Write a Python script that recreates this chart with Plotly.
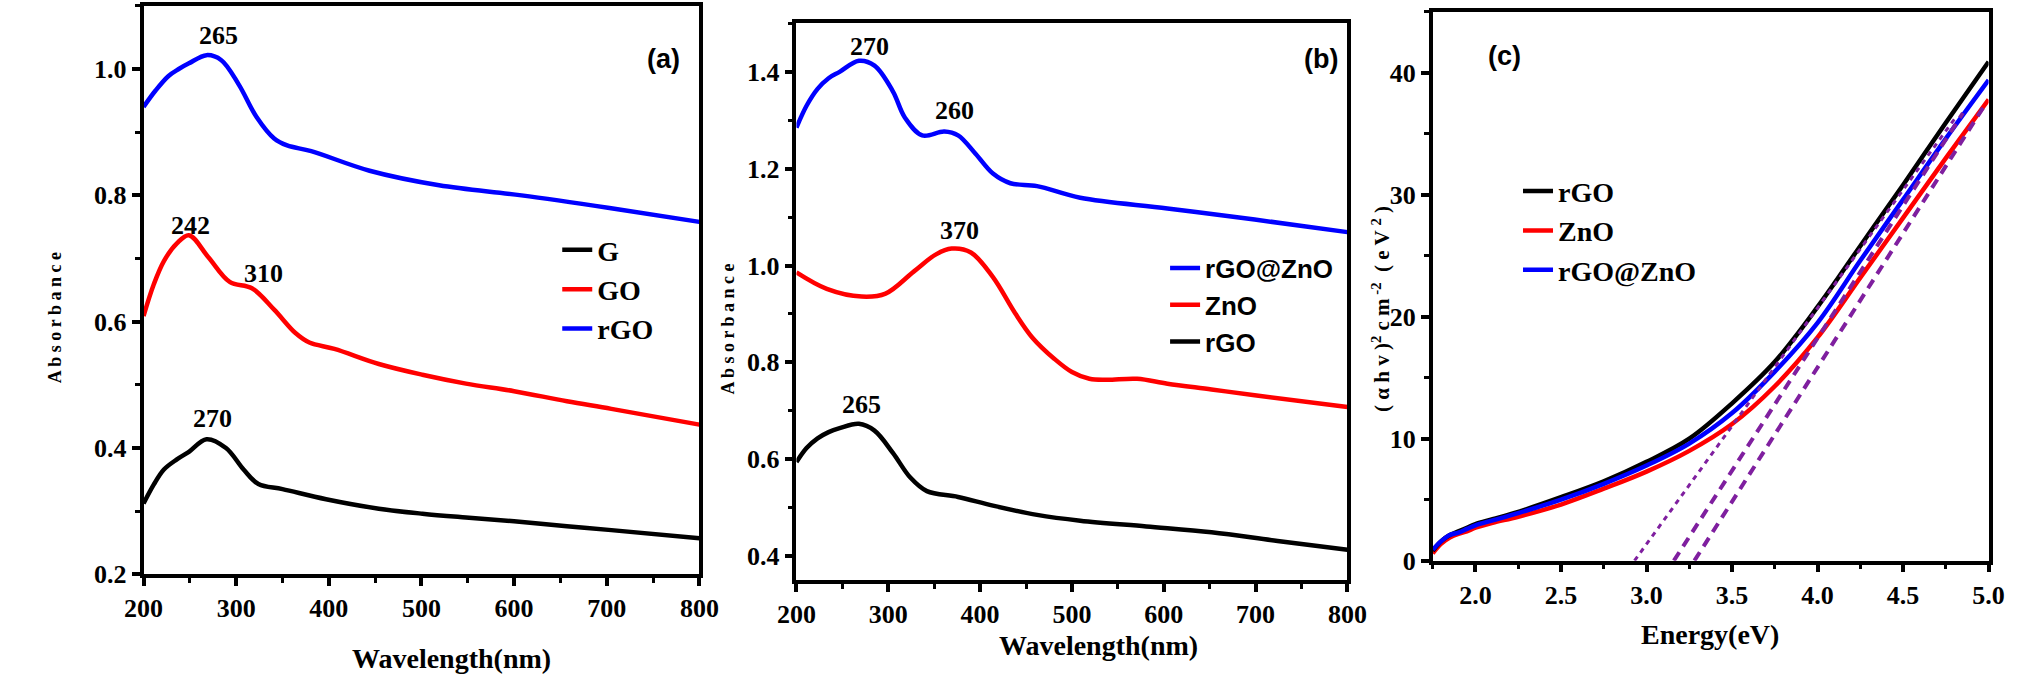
import plotly.graph_objects as go

W, H = 2038, 696

# ---------------- Data ----------------
# Panel (a)
a_G_x = [200, 211, 222, 236, 249, 268, 289, 308, 324, 350, 397, 454, 501, 548, 600, 657, 705, 800]
a_G_y = [0.312, 0.342, 0.366, 0.382, 0.394, 0.414, 0.400, 0.366, 0.343, 0.335, 0.319, 0.304, 0.296, 0.290, 0.284, 0.276, 0.270, 0.257]
a_GO_x = [200, 211, 222, 236, 249, 270, 293, 317, 341, 364, 379, 406, 454, 501, 548, 600, 657, 705, 800]
a_GO_y = [0.609, 0.659, 0.696, 0.724, 0.737, 0.702, 0.663, 0.653, 0.619, 0.582, 0.567, 0.557, 0.533, 0.516, 0.502, 0.490, 0.474, 0.462, 0.437]
a_rGO_x = [200, 213, 227, 238, 249, 268, 284, 303, 322, 341, 355, 381, 444, 519, 608, 703, 800]
a_rGO_y = [0.940, 0.966, 0.989, 1.000, 1.009, 1.022, 1.014, 0.975, 0.924, 0.890, 0.879, 0.870, 0.839, 0.816, 0.800, 0.780, 0.758]

# Panel (b)
b_rGOZnO_x = [200, 211, 223, 235, 247, 268, 285, 305, 318, 337, 361, 376, 395, 414, 433, 462, 509, 604, 699, 800]
b_rGOZnO_y = [1.285, 1.330, 1.365, 1.387, 1.400, 1.423, 1.413, 1.360, 1.306, 1.269, 1.277, 1.269, 1.231, 1.190, 1.170, 1.164, 1.140, 1.118, 1.095, 1.069]
b_ZnO_x = [200, 233, 271, 297, 328, 352, 369, 390, 414, 438, 457, 481, 500, 519, 538, 571, 604, 652, 699, 800]
b_ZnO_y = [0.986, 0.952, 0.936, 0.942, 0.988, 1.023, 1.035, 1.027, 0.976, 0.902, 0.851, 0.807, 0.780, 0.766, 0.764, 0.766, 0.756, 0.744, 0.732, 0.708]
b_rGO_x = [200, 211, 223, 235, 247, 268, 285, 305, 324, 342, 376, 414, 462, 509, 581, 652, 724, 800]
b_rGO_y = [0.594, 0.623, 0.643, 0.656, 0.664, 0.673, 0.659, 0.613, 0.562, 0.534, 0.522, 0.504, 0.485, 0.473, 0.461, 0.449, 0.431, 0.413]

# Panel (c)
c_E = [1.75, 1.80, 1.85, 1.90, 1.95, 2.00, 2.10, 2.25, 2.50, 2.75, 3.00, 3.25, 3.50, 3.75, 4.00, 4.25, 4.50, 4.75, 5.00]
c_rGO = [0.8, 1.6, 2.1, 2.4, 2.7, 3.0, 3.4, 4.0, 5.2, 6.5, 8.1, 10.0, 12.9, 16.3, 20.8, 25.8, 30.8, 35.9, 40.9]
c_ZnO = [0.6, 1.4, 1.9, 2.2, 2.4, 2.7, 3.1, 3.6, 4.6, 5.9, 7.3, 9.0, 11.2, 14.3, 18.3, 23.2, 28.1, 33.0, 37.8]
c_rGOZnO = [0.9, 1.6, 2.1, 2.3, 2.6, 2.9, 3.3, 3.9, 5.0, 6.3, 7.8, 9.6, 12.1, 15.5, 19.5, 24.6, 29.6, 34.6, 39.4]
# Tauc tangent lines (start at x-intercept, end on curve)
tan_rGO_E, tan_rGO_Y = [2.93, 4.80], [0, 36.2]
tan_rGOZnO_E, tan_rGOZnO_Y = [3.16, 4.85], [0, 36.7]
tan_ZnO_E, tan_ZnO_Y = [3.28, 4.98], [0, 37.4]

# Peak labels
a_peaks = [("265", 281, 1.053), ("242", 251, 0.753), ("310", 330, 0.676), ("270", 274, 0.447)]
b_peaks = [("270", 280, 1.453), ("260", 372, 1.320), ("370", 378, 1.073), ("265", 271, 0.712)]

# ---------------- Helpers ----------------
def fx(p):
    return p / W

def fy(p):
    return 1 - p / H

SERIF = "Liberation Serif"
SANS = "Liberation Sans"
BLUE, RED, BLACK, PURPLE = "#0000FF", "#FF0000", "#000000", "#7F1F9F"
LW = 4.5

fig = go.Figure()

def line(x, y, color, name, xa, ya, legend, rank=None, show=True, dash=None, width=LW):
    fig.add_trace(go.Scatter(
        x=x, y=y, mode="lines", name=name,
        line=dict(color=color, width=width, shape="spline", smoothing=1.0, dash=dash),
        xaxis=xa, yaxis=ya, legend=legend, showlegend=show,
        legendrank=rank if rank is not None else 1000,
        hoverinfo="skip"))

# Panel a
line(a_G_x, a_G_y, BLACK, "G", "x", "y", "legend", 1)
line(a_GO_x, a_GO_y, RED, "GO", "x", "y", "legend", 2)
line(a_rGO_x, a_rGO_y, BLUE, "rGO", "x", "y", "legend", 3)
# Panel b
line(b_rGOZnO_x, b_rGOZnO_y, BLUE, "rGO@ZnO", "x2", "y2", "legend2", 1)
line(b_ZnO_x, b_ZnO_y, RED, "ZnO", "x2", "y2", "legend2", 2)
line(b_rGO_x, b_rGO_y, BLACK, "rGO", "x2", "y2", "legend2", 3)
# Panel c
line(c_E, c_ZnO, RED, "ZnO", "x3", "y3", "legend3", 2)
line(c_E, c_rGO, BLACK, "rGO", "x3", "y3", "legend3", 1)
line(c_E, c_rGOZnO, BLUE, "rGO@ZnO", "x3", "y3", "legend3", 3)
for ex, ey, d, w in [(tan_rGO_E, tan_rGO_Y, "5px,5px", 3),
                     (tan_rGOZnO_E, tan_rGOZnO_Y, "10px,7px", 4),
                     (tan_ZnO_E, tan_ZnO_Y, "10px,7px", 4)]:
    fig.add_trace(go.Scatter(x=ex, y=ey, mode="lines", showlegend=False,
                             line=dict(color=PURPLE, width=w, dash=d),
                             xaxis="x3", yaxis="y3", hoverinfo="skip"))

tickfont = dict(family=SERIF, size=26, color="black", weight="bold")

def axis(domain, rng, dtick, minor_dtick, anchor, fmt=None, tick0=None):
    d = dict(domain=domain, range=rng, dtick=dtick, anchor=anchor,
             showline=True, linewidth=3.5, linecolor="black", mirror=True,
             ticks="outside", ticklen=8, tickwidth=3.5, tickcolor="black",
             showgrid=False, zeroline=False, tickfont=tickfont,
             minor=dict(ticks="outside", ticklen=5, tickwidth=3, tickcolor="black", dtick=minor_dtick,
                        showgrid=False))
    if fmt:
        d["tickformat"] = fmt
    if tick0 is not None:
        d["tick0"] = tick0
    return d

layout = dict(
    width=W, height=H, margin=dict(l=0, r=0, t=0, b=0),
    paper_bgcolor="white", plot_bgcolor="white", showlegend=True,
    xaxis=axis([fx(126), fx(693)], [200, 800], 100, 50, "y"),
    yaxis=axis([fy(587), fy(6)], [0.2, 1.1], 0.2, 0.1, "x", ".1f", 0.2),
    xaxis2=axis([fx(792), fx(1354)], [200, 800], 100, 50, "y2"),
    yaxis2=axis([fy(593), fy(24)], [0.35, 1.5], 0.2, 0.1, "x2", ".1f", 0.4),
    xaxis3=axis([fx(1441), fx(2008)], [1.75, 5.0], 0.5, 0.25, "y3", ".1f", 2.0),
    yaxis3=axis([fy(573), fy(12)], [0, 45], 10, 5, "x3"),
    legend=dict(x=fx(548), y=fy(230), xanchor="left", yanchor="top", bgcolor="rgba(0,0,0,0)",
                font=dict(family=SERIF, size=28, color="black", weight="bold"),
                tracegroupgap=0, itemclick=False),
    legend2=dict(x=fx(1168), y=fy(250), xanchor="left", yanchor="top", bgcolor="rgba(0,0,0,0)",
                 font=dict(family=SANS, size=26, color="black", weight="bold"),
                 tracegroupgap=0, itemclick=False),
    legend3=dict(x=fx(1528), y=fy(170), xanchor="left", yanchor="top", bgcolor="rgba(0,0,0,0)",
                 font=dict(family=SERIF, size=28, color="black", weight="bold"),
                 tracegroupgap=0, itemclick=False),
)
fig.update_layout(**layout)

ann = []
pfont = dict(family=SERIF, size=26, color="black", weight="bold")
for t, x, y in a_peaks:
    ann.append(dict(text=t, x=x, y=y, xref="x", yref="y", showarrow=False, font=pfont))
for t, x, y in b_peaks:
    ann.append(dict(text=t, x=x, y=y, xref="x2", yref="y2", showarrow=False, font=pfont))

def ptext(t, px, py, font, angle=0):
    ann.append(dict(text=t, x=fx(px), y=fy(py), xref="paper", yref="paper", showarrow=False,
                    font=font, textangle=angle, xanchor="center", yanchor="middle"))

lab_font = dict(family=SANS, size=27, color="black", weight="bold")
ptext("(a)", 656, 60, lab_font)
ptext("(b)", 1327, 60, lab_font)
ptext("(c)", 1514, 57, lab_font)
title_font = dict(family=SERIF, size=28, color="black", weight="bold")
ptext("Wavelength(nm)", 440, 673, title_font)
ptext("Wavelength(nm)", 1100, 660, title_font)
ptext("Energy(eV)", 1724, 648, title_font)
abs_font = dict(family=SERIF, size=18, color="black", weight="bold")
ptext("A b s o r b a n c e", 36, 325, abs_font, -90)
ptext("A b s o r b a n c e", 722, 336, abs_font, -90)
ptext("( α h v )<sup>2</sup> c m<sup> -2</sup>  ( e V <sup>2</sup> )", 1388, 316,
      dict(family=SERIF, size=21, color="black", weight="bold"), -90)

fig.update_layout(annotations=ann)
fig.write_html("out.html")
